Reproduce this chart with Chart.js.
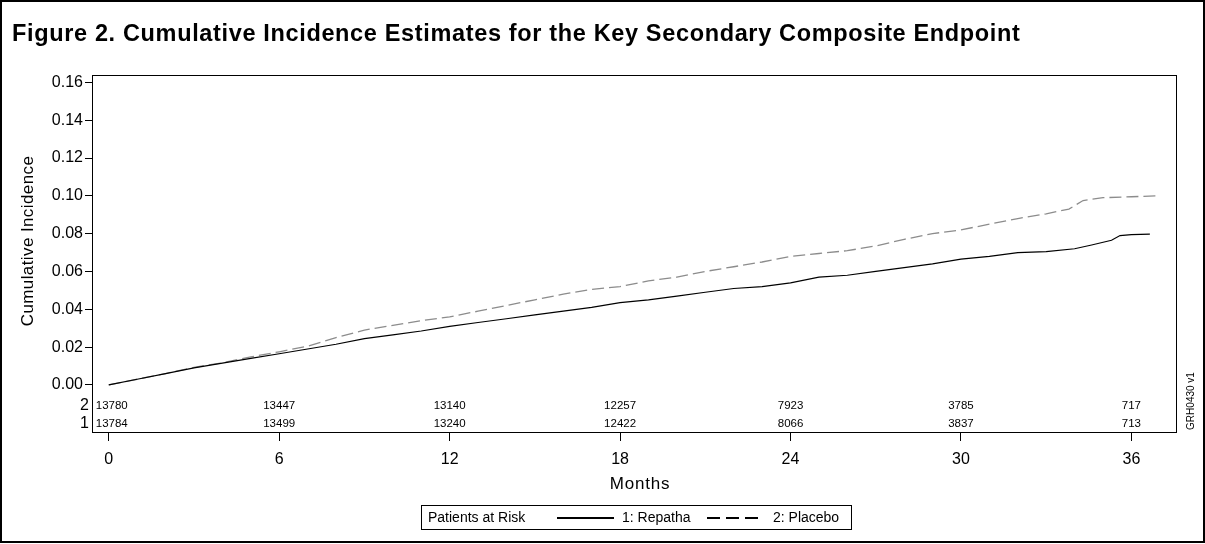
<!DOCTYPE html>
<html>
<head>
<meta charset="utf-8">
<script src="https://cdn.jsdelivr.net/npm/chart.js@4"></script>
<style>
  html, body { margin:0; padding:0; background:#fff; }
  body { width:1205px; height:544px; position:relative; overflow:hidden; font-family:"Liberation Sans", Arial, sans-serif; }
  #frame { position:absolute; left:0; top:0; width:1201px; height:539px; border:2px solid #000; box-sizing:content-box; pointer-events:none; }
  #wrap { position:absolute; left:0; top:0; width:1205px; height:544px; }
  #title { position:absolute; left:12px; top:20px; font-weight:bold; font-size:23.5px; letter-spacing:0.65px; color:#000; white-space:nowrap; }
  #ytitle { position:absolute; left:28px; top:241px; transform:translate(-50%,-50%) rotate(-90deg); font-size:17px; white-space:nowrap; letter-spacing:0.4px; color:#000; }
  #xtitle { position:absolute; left:640px; top:484px; transform:translate(-50%,-50%); font-size:17px; letter-spacing:0.8px; color:#000; }
  #code { position:absolute; left:1190px; top:401px; transform:translate(-50%,-50%) rotate(-90deg); font-size:10px; white-space:nowrap; color:#000; }
  #legend { position:absolute; left:421px; top:505px; width:429px; height:23px; border:1px solid #000; font-size:14px; color:#000; }
  #legend span { position:absolute; top:3px; white-space:nowrap; }
  .lg-solid { position:absolute; left:135px; top:11px; width:57px; height:2px; background:#000; }
  .lg-dash { position:absolute; left:285px; top:11px; width:55px; height:2px; background:repeating-linear-gradient(90deg,#000 0 13px,transparent 13px 19px); }
</style>
</head>
<body>
<div id="wrap"><canvas id="c" width="1205" height="544"></canvas></div>
<div id="frame"></div>
<div id="title">Figure 2. Cumulative Incidence Estimates for the Key Secondary Composite Endpoint</div>
<div id="ytitle">Cumulative Incidence</div>
<div id="xtitle">Months</div>
<div id="code">GRH0430 v1</div>
<div id="legend">
  <span style="left:6px">Patients at Risk</span>
  <div class="lg-solid"></div>
  <span style="left:200px">1: Repatha</span>
  <div class="lg-dash"></div>
  <span style="left:351px">2: Placebo</span>
</div>
<script>
// ---- data ----
const repathaMonths = [0,1,2,3,4,5,6,7,8,9,10,11,12,13,14,15,16,17,18,19,20,21,22,23,24,25,26,27,28,29,30,31,32,33,34,34.6,35.3,35.6,36,36.65];
const repathaValues = [0,0.003,0.006,0.009,0.0115,0.014,0.0165,0.019,0.0215,0.0245,0.0265,0.0285,0.031,0.033,0.035,0.037,0.039,0.041,0.0435,0.045,0.047,0.049,0.051,0.052,0.054,0.057,0.058,0.060,0.062,0.064,0.0665,0.068,0.070,0.0705,0.072,0.074,0.0765,0.079,0.0795,0.0797];
const placeboMonths = [0,1,2,3,4,5,6,7,8,9,10,11,12,13,14,15,16,17,18,19,20,21,22,23,24,25,26,27,28,29,30,31,32,33,33.8,34.3,35,36,36.9];
const placeboValues = [0,0.003,0.006,0.0093,0.0117,0.0148,0.0175,0.0205,0.025,0.029,0.0315,0.034,0.036,0.039,0.042,0.045,0.048,0.0505,0.052,0.055,0.057,0.060,0.0625,0.065,0.068,0.0695,0.071,0.0735,0.077,0.080,0.082,0.085,0.088,0.0905,0.093,0.0975,0.099,0.0995,0.100];
const xTicks = [0,6,12,18,24,30,36];
const yTicks = [0,0.02,0.04,0.06,0.08,0.10,0.12,0.14,0.16];
const atRiskMonths = [0,6,12,18,24,30,36];
const atRiskPlacebo = [13780,13447,13140,12257,7923,3785,717];
const atRiskRepatha = [13784,13499,13240,12422,8066,3837,713];
const atRiskRowLabels = ["2","1"];

const toPts = (xs, ys) => xs.map((x,i)=>({x:x, y:ys[i]}));

const framePlugin = {
  id:'framePlugin',
  afterDraw(chart){
    const {ctx, chartArea:a, scales} = chart;
    ctx.save();
    ctx.strokeStyle='#000'; ctx.lineWidth=1;
    ctx.strokeRect(Math.round(a.left)+0.5, Math.round(a.top)+0.5, Math.round(a.right-a.left), Math.round(a.bottom-a.top));
    // at-risk table
    const rowsY = [a.bottom-26, a.bottom-8];
    const rows = [atRiskPlacebo, atRiskRepatha];
    ctx.fillStyle='#000';
    ctx.textBaseline='middle';
    ctx.font='16px "Liberation Sans", Arial, sans-serif';
    ctx.textAlign='right';
    atRiskRowLabels.forEach((l,i)=>ctx.fillText(l, a.left-3, rowsY[i]));
    ctx.font='11.5px "Liberation Sans", Arial, sans-serif';
    ctx.textAlign='center';
    rows.forEach((r,i)=>{
      r.forEach((v,j)=>{
        let px = scales.x.getPixelForValue(atRiskMonths[j]);
        if (j===0) px += 3;
        ctx.fillText(String(v), px, rowsY[i]);
      });
    });
    ctx.restore();
  }
};

new Chart(document.getElementById('c'), {
  type:'line',
  data:{
    datasets:[
      { label:'1: Repatha', data:toPts(repathaMonths, repathaValues), borderColor:'#000', borderWidth:1.2, pointRadius:0, fill:false, tension:0 },
      { label:'2: Placebo', data:toPts(placeboMonths, placeboValues), borderColor:'#8c8c8c', borderWidth:1.3, borderDash:[12,5], pointRadius:0, fill:false, tension:0 }
    ]
  },
  options:{
    responsive:false,
    animation:false,
    devicePixelRatio:1,
    layout:{ padding:{ left:0, top:75, right:29, bottom:0 } },
    plugins:{ legend:{display:false}, tooltip:{enabled:false}, title:{display:false} },
    scales:{
      x:{
        type:'linear', min:-0.59, max:37.57,
        border:{display:false},
        grid:{ drawOnChartArea:false, drawTicks:true, tickLength:9, color:'#000', lineWidth:1 },
        ticks:{ color:'#000', font:{size:16, family:'"Liberation Sans", Arial, sans-serif'}, padding:9, maxRotation:0, autoSkip:false },
        afterBuildTicks:(s)=>{ s.ticks = xTicks.map(v=>({value:v})); },
        afterFit:(s)=>{ s.height = 112; }
      },
      y:{
        type:'linear', min:-0.0249, max:0.1639,
        border:{display:false},
        grid:{ drawOnChartArea:false, drawTicks:true, tickLength:7, color:'#000', lineWidth:1 },
        ticks:{ color:'#000', font:{size:16, family:'"Liberation Sans", Arial, sans-serif'}, padding:2, callback:(v)=>Number(v).toFixed(2) },
        afterBuildTicks:(s)=>{ s.ticks = yTicks.map(v=>({value:v})); },
        afterFit:(s)=>{ s.width = 92; }
      }
    }
  },
  plugins:[framePlugin]
});
</script>
</body>
</html>
